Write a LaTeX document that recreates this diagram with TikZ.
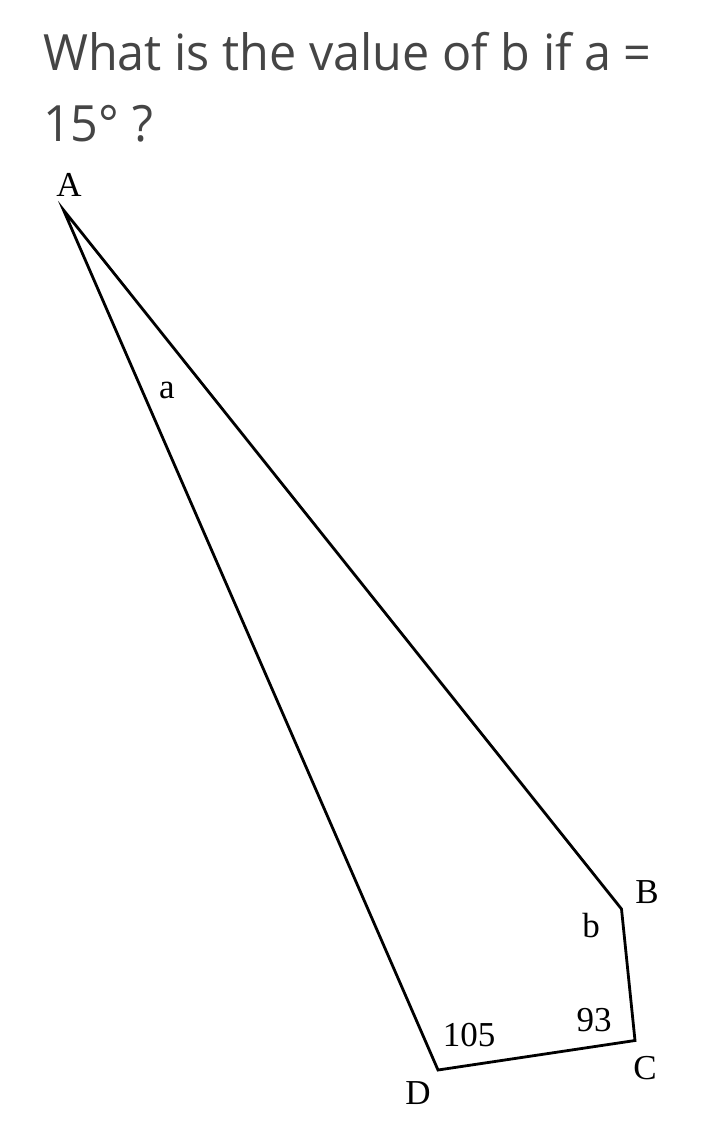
\documentclass[tikz,border=0pt]{standalone}
\usepackage{fontspec}
\setmainfont{Liberation Serif}
\newfontfamily\titlefont{Open Sans}
\definecolor{titlegray}{HTML}{454545}
\tikzset{
  lbl/.style={inner sep=0pt, font=\fontsize{35}{38}\selectfont},
  ttl/.style={inner sep=0pt, anchor=base west, text=titlegray, font=\titlefont\fontsize{50}{60}\selectfont},
  edge/.style={line width=2.8pt, line join=miter}
}
\begin{document}
\begin{tikzpicture}[x=1pt,y=-1pt]
\useasboundingbox (0,0) rectangle (719,1145);
\node[ttl] (t1) at (43,71) {\scalebox{0.97}[1]{What is the value of b if a =}};
\node[ttl] (t2) at (43,142) {\scalebox{0.97}[1]{15° ?}};
\coordinate (A) at (63.5,210);
\coordinate (B) at (621.5,909);
\coordinate (C) at (635,1040.5);
\coordinate (D) at (438,1070);
\draw[edge] (A) -- (B) -- (C) -- (D) -- cycle;
\node[lbl] (lA) at (69,185) {A};
\node[lbl] (lB) at (647,892) {B};
\node[lbl] (lC) at (645,1068) {C};
\node[lbl] (lD) at (418,1093) {D};
\node[lbl] (la) at (167,390) {a};
\node[lbl] (lb) at (591,926) {b};
\node[lbl] (l93) at (594,1020) {93};
\node[lbl] (l105) at (469,1035) {105};
\end{tikzpicture}
\end{document}
